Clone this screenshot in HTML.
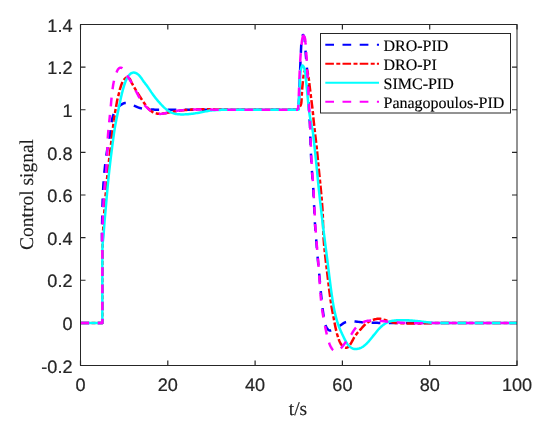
<!DOCTYPE html>
<html><head><meta charset="utf-8"><style>
html,body{margin:0;padding:0;background:#fff;}
svg{display:block;}
text{text-rendering:geometricPrecision;}
.tk text{font-family:"Liberation Sans",Arial,sans-serif;font-size:18.1px;fill:#262626;stroke:#262626;stroke-width:0.2px;}
.lab{font-family:"Liberation Serif","Times New Roman",serif;font-size:19.5px;fill:#1e1e1e;stroke:#1e1e1e;stroke-width:0.15px;}
.lg text{font-family:"Liberation Serif","Times New Roman",serif;font-size:16px;fill:#000;stroke:#000;stroke-width:0.15px;}
</style></head><body>
<svg width="550" height="426" viewBox="0 0 550 426">
<rect x="0" y="0" width="550" height="426" fill="#fff"/>
<path d="M80.50,365.5 V360.50 M80.50,24.5 V29.50 M167.80,365.5 V360.50 M167.80,24.5 V29.50 M255.10,365.5 V360.50 M255.10,24.5 V29.50 M342.40,365.5 V360.50 M342.40,24.5 V29.50 M429.70,365.5 V360.50 M429.70,24.5 V29.50 M517.00,365.5 V360.50 M517.00,24.5 V29.50 M80.5,365.52 H85.50 M517,365.52 H512.00 M80.5,322.90 H85.50 M517,322.90 H512.00 M80.5,280.27 H85.50 M517,280.27 H512.00 M80.5,237.65 H85.50 M517,237.65 H512.00 M80.5,195.02 H85.50 M517,195.02 H512.00 M80.5,152.40 H85.50 M517,152.40 H512.00 M80.5,109.77 H85.50 M517,109.77 H512.00 M80.5,67.15 H85.50 M517,67.15 H512.00 M80.5,24.52 H85.50 M517,24.52 H512.00" fill="none" stroke="#262626" stroke-width="1.2"/>
<g fill="none" stroke-width="2.5" stroke-linejoin="round">
<path d="M80.50,322.90 L102.33,322.90 L102.33,255.00 L102.27,252.62 L102.20,250.23 L102.13,247.83 L102.06,245.43 L102.00,243.05 L101.95,240.68 L101.92,238.32 L101.90,236.00 L101.90,233.83 L101.92,231.68 L101.96,229.54 L102.00,227.43 L102.05,225.31 L102.10,223.21 L102.15,221.11 L102.20,219.00 L102.24,216.92 L102.29,214.85 L102.33,212.78 L102.37,210.72 L102.42,208.65 L102.48,206.60 L102.53,204.55 L102.60,202.50 L102.67,200.50 L102.74,198.51 L102.82,196.53 L102.90,194.55 L102.98,192.57 L103.08,190.59 L103.18,188.60 L103.30,186.60 L103.43,184.54 L103.56,182.48 L103.71,180.42 L103.86,178.35 L104.03,176.27 L104.20,174.19 L104.39,172.10 L104.60,170.00 L104.83,167.83 L105.07,165.65 L105.32,163.47 L105.59,161.27 L105.87,159.08 L106.17,156.88 L106.48,154.69 L106.80,152.50 L107.15,150.29 L107.54,148.06 L107.95,145.81 L108.37,143.57 L108.79,141.36 L109.19,139.18 L109.56,137.06 L109.90,135.00 L110.15,133.29 L110.37,131.61 L110.57,129.94 L110.76,128.31 L110.95,126.73 L111.15,125.19 L111.36,123.71 L111.60,122.30" stroke="#0000ff" stroke-dasharray="8.7 8.5" stroke-dashoffset="0.00"/>
<path d="M111.60,122.30 L111.80,121.25 L111.99,120.22 L112.19,119.23 L112.40,118.27 L112.62,117.35 L112.86,116.46 L113.12,115.61 L113.40,114.80 L113.64,114.20 L113.89,113.63 L114.15,113.09 L114.42,112.58 L114.70,112.07 L114.99,111.58 L115.29,111.09 L115.60,110.60 L115.91,110.12 L116.23,109.63 L116.56,109.16 L116.90,108.69 L117.24,108.23 L117.59,107.79 L117.95,107.38 L118.30,107.00 L118.60,106.70 L118.89,106.43 L119.19,106.17 L119.49,105.92 L119.80,105.69 L120.12,105.46 L120.45,105.23 L120.80,105.00 L121.22,104.73 L121.65,104.44 L122.10,104.16 L122.57,103.89 L123.05,103.63 L123.53,103.41 L124.01,103.23 L124.50,103.10 L124.98,103.03 L125.47,102.99 L125.96,102.99 L126.45,103.03 L126.96,103.09 L127.46,103.18 L127.98,103.28 L128.50,103.40 L129.13,103.58 L129.76,103.81 L130.41,104.07 L131.06,104.37 L131.72,104.68 L132.40,105.00 L133.09,105.31 L133.80,105.60 L134.65,105.94 L135.52,106.30 L136.40,106.67 L137.31,107.04 L138.23,107.40 L139.17,107.74 L140.13,108.04 L141.10,108.30 L142.18,108.53 L143.28,108.73 L144.41,108.88 L145.55,109.02 L146.71,109.13 L147.87,109.22 L149.04,109.31 L150.20,109.40 L151.39,109.48 L152.57,109.55 L153.75,109.60 L154.95,109.64 L156.16,109.68 L157.39,109.70 L158.67,109.73 L160.00,109.75 L161.72,109.77 L163.53,109.78 L165.39,109.79 L167.30,109.78 L169.24,109.77 L171.18,109.76 L173.10,109.75 L175.00,109.75 L298.15,109.75" stroke="#0000ff" stroke-dasharray="8.7 8.5" stroke-dashoffset="0.24"/>
<path d="M298.15,109.75 L298.23,108.92 L298.30,108.11 L298.38,107.32 L298.46,106.51 L298.53,105.69 L298.61,104.84 L298.68,103.95 L298.75,103.00 L298.84,101.58 L298.93,100.06 L299.02,98.46 L299.10,96.80 L299.18,95.10 L299.25,93.38 L299.33,91.68 L299.40,90.00 L299.47,88.27 L299.54,86.52 L299.60,84.77 L299.66,83.00 L299.72,81.23 L299.78,79.48 L299.84,77.73 L299.90,76.00 L299.96,74.34 L300.02,72.66 L300.09,70.98 L300.15,69.32 L300.21,67.68 L300.28,66.07 L300.34,64.51 L300.40,63.00 L300.45,61.78 L300.50,60.59 L300.55,59.42 L300.60,58.28 L300.65,57.17 L300.70,56.08 L300.75,55.03 L300.80,54.00 L300.84,53.20 L300.87,52.44 L300.91,51.71 L300.94,50.99 L300.97,50.27 L301.01,49.54 L301.05,48.79 L301.10,48.00 L301.15,47.00 L301.20,45.94 L301.25,44.84 L301.30,43.73 L301.37,42.63 L301.46,41.56 L301.56,40.54 L301.70,39.60 L301.82,38.88 L301.96,38.11 L302.11,37.33 L302.27,36.59 L302.44,35.94 L302.62,35.40 L302.81,35.04 L303.00,34.90 L303.15,34.95 L303.32,35.11 L303.50,35.37 L303.67,35.70 L303.85,36.08 L304.02,36.48 L304.17,36.90 L304.30,37.30 L304.46,37.94 L304.59,38.65 L304.68,39.42 L304.76,40.24 L304.82,41.09 L304.87,41.96 L304.93,42.83 L305.00,43.70 L305.08,44.70 L305.16,45.74 L305.24,46.80 L305.31,47.88 L305.38,48.96 L305.45,50.05 L305.52,51.13 L305.60,52.20 L305.68,53.25 L305.77,54.30 L305.86,55.35 L305.94,56.40 L306.03,57.45 L306.12,58.50 L306.21,59.55 L306.30,60.60 L306.39,61.64 L306.48,62.65 L306.57,63.64 L306.65,64.64 L306.74,65.67 L306.83,66.75 L306.92,67.88 L307.00,69.10 L307.12,71.07 L307.24,73.22 L307.35,75.52 L307.47,77.91 L307.58,80.34 L307.69,82.77 L307.80,85.14 L307.90,87.40 L307.99,89.42 L308.08,91.42 L308.17,93.41 L308.26,95.38 L308.34,97.32 L308.43,99.23 L308.51,101.09 L308.60,102.90 L308.67,104.40 L308.75,105.87 L308.82,107.30 L308.89,108.71 L308.96,110.10 L309.04,111.47 L309.12,112.84 L309.20,114.20 L309.28,115.45 L309.37,116.65 L309.46,117.83 L309.56,119.00 L309.65,120.19 L309.74,121.43 L309.82,122.72 L309.90,124.10 L309.99,126.12 L310.08,128.30 L310.15,130.59 L310.22,132.95 L310.28,135.35 L310.35,137.75 L310.42,140.11 L310.50,142.40 L310.58,144.56 L310.66,146.73 L310.74,148.89 L310.83,151.04 L310.91,153.17 L311.01,155.26 L311.10,157.31 L311.20,159.30 L311.29,160.99 L311.39,162.66 L311.49,164.31 L311.59,165.92 L311.70,167.50 L311.80,169.05 L311.90,170.55 L312.00,172.00 L312.08,173.14 L312.15,174.24 L312.22,175.31 L312.30,176.36 L312.37,177.39 L312.44,178.42 L312.52,179.45 L312.60,180.50 L312.69,181.56 L312.78,182.63 L312.87,183.69 L312.97,184.75 L313.06,185.82 L313.15,186.88 L313.23,187.94 L313.30,189.00 L313.35,190.05 L313.40,191.10 L313.43,192.15 L313.46,193.20 L313.49,194.25 L313.52,195.30 L313.56,196.35 L313.60,197.40 L313.65,198.45 L313.71,199.50 L313.78,200.55 L313.84,201.60 L313.91,202.65 L313.98,203.70 L314.04,204.75 L314.10,205.80 L314.15,206.86 L314.21,207.91 L314.25,208.96 L314.30,210.01 L314.35,211.06 L314.40,212.13 L314.45,213.21 L314.50,214.30 L314.56,215.51 L314.62,216.75 L314.67,218.01 L314.73,219.28 L314.80,220.54 L314.86,221.79 L314.93,223.01 L315.00,224.20 L315.07,225.22 L315.14,226.20 L315.21,227.17 L315.29,228.12 L315.37,229.07 L315.44,230.03 L315.52,231.00 L315.60,232.00 L315.68,233.11 L315.77,234.23 L315.86,235.37 L315.95,236.53 L316.03,237.68 L316.12,238.83 L316.21,239.97 L316.30,241.10 L316.39,242.18 L316.47,243.25 L316.56,244.31 L316.65,245.37 L316.74,246.43 L316.82,247.49 L316.91,248.54 L317.00,249.60 L317.09,250.65 L317.17,251.70 L317.26,252.75 L317.34,253.80 L317.43,254.85 L317.52,255.90 L317.61,256.95 L317.70,258.00 L317.80,259.06 L317.89,260.11 L317.99,261.16 L318.09,262.22 L318.19,263.28 L318.29,264.34 L318.40,265.41 L318.50,266.50 L318.61,267.64 L318.72,268.78 L318.82,269.91 L318.93,271.05 L319.04,272.22 L319.16,273.43 L319.28,274.68 L319.40,276.00" stroke="#0000ff" stroke-dasharray="8.7 8.5" stroke-dashoffset="11.85"/>
<path d="M319.40,276.00 L319.57,277.84 L319.74,279.80 L319.92,281.85 L320.11,283.96 L320.30,286.10 L320.50,288.26 L320.70,290.40 L320.90,292.50 L321.10,294.61 L321.31,296.74 L321.51,298.87 L321.72,301.00 L321.94,303.13 L322.18,305.24 L322.43,307.34 L322.70,309.40 L322.97,311.39 L323.24,313.44 L323.51,315.51 L323.80,317.54 L324.12,319.51 L324.47,321.35 L324.86,323.03 L325.30,324.50 L325.59,325.30 L325.89,326.07 L326.21,326.78 L326.54,327.45 L326.89,328.06 L327.24,328.61 L327.61,329.09 L328.00,329.50 L328.26,329.74 L328.53,329.94 L328.81,330.12 L329.09,330.27 L329.37,330.40 L329.67,330.49 L329.98,330.56 L330.30,330.60 L330.71,330.60 L331.14,330.55 L331.58,330.45 L332.04,330.32 L332.52,330.14 L333.00,329.95 L333.50,329.73 L334.00,329.50 L334.75,329.12 L335.55,328.65 L336.38,328.12 L337.22,327.55 L338.07,326.96 L338.91,326.37 L339.73,325.81 L340.50,325.30 L341.12,324.89 L341.72,324.46 L342.30,324.04 L342.87,323.64 L343.44,323.25 L344.01,322.89 L344.60,322.57 L345.20,322.30 L345.78,322.09 L346.37,321.92 L346.96,321.78 L347.56,321.67 L348.17,321.58 L348.77,321.51 L349.39,321.45 L350.00,321.40 L350.63,321.36 L351.26,321.34 L351.90,321.34 L352.53,321.35 L353.18,321.38 L353.84,321.41 L354.51,321.45 L355.20,321.50 L356.03,321.57 L356.87,321.66 L357.72,321.76 L358.59,321.88 L359.49,321.99 L360.40,322.11 L361.34,322.21 L362.30,322.30 L363.51,322.39 L364.76,322.47 L366.05,322.54 L367.37,322.61 L368.71,322.66 L370.07,322.71 L371.44,322.76 L372.80,322.80 L374.27,322.83 L375.76,322.86 L377.25,322.87 L378.76,322.88 L380.29,322.89 L381.84,322.89 L383.41,322.90 L385.00,322.90 L386.80,322.91 L388.64,322.91 L390.51,322.91 L392.40,322.91 L394.31,322.91 L396.21,322.90 L398.11,322.90 L400.00,322.90 L517.00,322.90" stroke="#0000ff" stroke-dasharray="8.7 8.5" stroke-dashoffset="2.11"/>
<path d="M80.50,322.90 L102.33,322.90 L102.33,255.00 L102.37,253.13 L102.41,251.28 L102.45,249.43 L102.49,247.58 L102.53,245.72 L102.58,243.85 L102.63,241.94 L102.70,240.00 L102.79,237.83 L102.88,235.61 L102.98,233.37 L103.09,231.10 L103.21,228.82 L103.33,226.54 L103.46,224.26 L103.60,222.00 L103.74,219.75 L103.89,217.49 L104.05,215.23 L104.22,212.97 L104.38,210.71 L104.56,208.46 L104.73,206.22 L104.90,204.00 L105.07,201.85 L105.24,199.72 L105.41,197.59 L105.58,195.47 L105.75,193.35 L105.93,191.24 L106.11,189.12 L106.30,187.00 L106.49,184.85 L106.68,182.68 L106.88,180.49 L107.08,178.31 L107.29,176.16 L107.49,174.04 L107.70,171.98 L107.90,170.00 L108.07,168.39 L108.25,166.83 L108.42,165.30 L108.60,163.80 L108.77,162.33 L108.95,160.87 L109.12,159.43 L109.30,158.00 L109.46,156.71 L109.63,155.45 L109.79,154.20 L109.96,152.97 L110.12,151.75 L110.29,150.51 L110.44,149.27 L110.60,148.00 L110.76,146.64 L110.91,145.26 L111.06,143.87 L111.21,142.46 L111.36,141.07 L111.50,139.68 L111.65,138.33 L111.80,137.00 L111.94,135.83 L112.07,134.67 L112.21,133.52 L112.35,132.39 L112.49,131.27 L112.63,130.17 L112.76,129.08 L112.90,128.00 L113.02,127.03 L113.15,126.07 L113.27,125.13 L113.40,124.19 L113.52,123.26 L113.65,122.34 L113.77,121.42 L113.90,120.50" stroke="#ff0000" stroke-dasharray="8.6 2.4 4 2.2" stroke-dashoffset="0.00"/>
<path d="M113.90,120.50 L114.02,119.61 L114.14,118.73 L114.26,117.86 L114.39,116.98 L114.51,116.11 L114.64,115.24 L114.77,114.37 L114.90,113.50 L115.04,112.63 L115.18,111.75 L115.33,110.88 L115.48,110.01 L115.63,109.14 L115.78,108.27 L115.94,107.39 L116.10,106.50 L116.27,105.57 L116.43,104.61 L116.60,103.65 L116.78,102.69 L116.95,101.74 L117.13,100.80 L117.31,99.88 L117.50,99.00 L117.67,98.27 L117.84,97.56 L118.01,96.87 L118.19,96.19 L118.37,95.52 L118.55,94.85 L118.72,94.18 L118.90,93.50 L119.07,92.81 L119.24,92.13 L119.40,91.44 L119.56,90.75 L119.73,90.06 L119.91,89.38 L120.10,88.69 L120.30,88.00 L120.52,87.28 L120.76,86.54 L121.00,85.79 L121.25,85.05 L121.52,84.32 L121.80,83.61 L122.09,82.94 L122.40,82.30 L122.68,81.78 L122.96,81.27 L123.26,80.78 L123.57,80.31 L123.89,79.86 L124.22,79.44 L124.55,79.05 L124.90,78.70 L125.19,78.43 L125.50,78.16 L125.82,77.91 L126.14,77.68 L126.46,77.48 L126.78,77.33 L127.10,77.23 L127.40,77.20 L127.67,77.23 L127.95,77.31 L128.22,77.43 L128.49,77.59 L128.75,77.79 L129.01,78.01 L129.26,78.25 L129.50,78.50 L129.82,78.91 L130.11,79.38 L130.38,79.91 L130.64,80.48 L130.91,81.09 L131.18,81.72 L131.47,82.36 L131.80,83.00 L132.30,83.91 L132.85,84.90 L133.44,85.94 L134.06,87.01 L134.68,88.07 L135.28,89.11 L135.86,90.10 L136.40,91.00 L136.78,91.63 L137.14,92.22 L137.49,92.78 L137.83,93.33 L138.17,93.87 L138.51,94.40 L138.85,94.94 L139.20,95.50 L139.57,96.09 L139.94,96.68 L140.32,97.27 L140.69,97.87 L141.07,98.46 L141.45,99.05 L141.83,99.63 L142.20,100.20 L142.55,100.73 L142.90,101.25 L143.24,101.77 L143.59,102.28 L143.94,102.79 L144.29,103.30 L144.64,103.80 L145.00,104.30 L145.36,104.80 L145.73,105.31 L146.10,105.81 L146.47,106.32 L146.84,106.81 L147.22,107.29 L147.61,107.76 L148.00,108.20 L148.36,108.59 L148.72,108.97 L149.08,109.34 L149.45,109.70 L149.82,110.05 L150.21,110.38 L150.60,110.70 L151.00,111.00 L151.41,111.29 L151.83,111.56 L152.25,111.82 L152.69,112.07 L153.13,112.30 L153.58,112.52 L154.04,112.72 L154.50,112.90 L154.99,113.07 L155.48,113.23 L155.98,113.37 L156.49,113.49 L157.01,113.59 L157.53,113.68 L158.06,113.75 L158.60,113.80 L159.18,113.83 L159.76,113.84 L160.35,113.82 L160.94,113.78 L161.55,113.73 L162.18,113.66 L162.83,113.58 L163.50,113.50 L164.43,113.36 L165.40,113.19 L166.41,112.99 L167.44,112.77 L168.51,112.55 L169.59,112.32 L170.69,112.10 L171.80,111.90 L173.10,111.68 L174.44,111.46 L175.83,111.24 L177.23,111.03 L178.63,110.83 L180.02,110.63 L181.38,110.46 L182.70,110.30 L183.83,110.18 L184.92,110.07 L185.99,109.97 L187.05,109.89 L188.11,109.81 L189.20,109.74 L190.32,109.67 L191.50,109.60 L193.01,109.52 L194.60,109.45 L196.25,109.39 L197.93,109.33 L199.61,109.28 L201.29,109.24 L202.92,109.22 L204.50,109.20 L205.85,109.20 L207.16,109.21 L208.44,109.24 L209.70,109.27 L210.97,109.30 L212.27,109.34 L213.61,109.37 L215.00,109.40 L216.75,109.43 L218.56,109.45 L220.43,109.48 L222.33,109.51 L224.26,109.53 L226.19,109.55 L228.11,109.58 L230.00,109.60 L231.87,109.62 L233.75,109.64 L235.62,109.66 L237.50,109.68 L239.37,109.70 L241.25,109.71 L243.12,109.73 L245.00,109.75 L298.45,109.75" stroke="#ff0000" stroke-dasharray="8.6 2.4 4 2.2" stroke-dashoffset="3.39"/>
<path d="M298.45,109.75 L298.75,108.00 L299.03,107.60 L299.32,107.23 L299.61,106.87 L299.90,106.50 L300.18,106.11 L300.45,105.69 L300.69,105.22 L300.90,104.70 L301.17,103.71 L301.35,102.57 L301.47,101.31 L301.55,99.96 L301.61,98.56 L301.65,97.15 L301.71,95.75 L301.80,94.40 L301.91,93.01 L302.02,91.59 L302.12,90.16 L302.23,88.72 L302.33,87.30 L302.45,85.89 L302.57,84.52 L302.70,83.20 L302.82,82.09 L302.93,80.98 L303.05,79.89 L303.17,78.82 L303.30,77.78 L303.45,76.77 L303.61,75.81 L303.80,74.90 L303.95,74.20 L304.10,73.47 L304.25,72.74 L304.42,72.04 L304.60,71.41 L304.80,70.87 L305.04,70.46 L305.30,70.20 L305.47,70.13 L305.65,70.09 L305.85,70.08 L306.05,70.11 L306.25,70.17 L306.45,70.25 L306.63,70.36 L306.80,70.50 L307.08,70.87 L307.32,71.39 L307.52,72.02 L307.69,72.76 L307.85,73.56 L307.99,74.40 L308.14,75.26 L308.30,76.10 L308.52,77.32 L308.73,78.64 L308.92,80.04 L309.10,81.50 L309.28,82.99 L309.45,84.48 L309.62,85.96 L309.80,87.40 L309.98,88.81 L310.16,90.23 L310.33,91.64 L310.51,93.05 L310.68,94.47 L310.85,95.88 L311.03,97.29 L311.20,98.70 L311.38,100.10 L311.56,101.50 L311.74,102.91 L311.92,104.31 L312.10,105.70 L312.27,107.10 L312.44,108.50 L312.60,109.90 L312.75,111.29 L312.89,112.69 L313.03,114.09 L313.16,115.49 L313.30,116.88 L313.43,118.26 L313.56,119.64 L313.70,121.00 L313.83,122.27 L313.96,123.49 L314.09,124.69 L314.22,125.89 L314.36,127.12 L314.50,128.38 L314.64,129.70 L314.80,131.10 L315.03,133.14 L315.29,135.33 L315.56,137.63 L315.84,140.00 L316.12,142.41 L316.39,144.80 L316.66,147.14 L316.90,149.40 L317.11,151.39 L317.30,153.33 L317.48,155.24 L317.66,157.13 L317.84,159.03 L318.01,160.96 L318.20,162.95 L318.40,165.00 L318.65,167.51 L318.91,170.13 L319.18,172.82 L319.46,175.55 L319.73,178.29 L320.00,180.98 L320.26,183.60 L320.50,186.10 L320.70,188.17 L320.89,190.20 L321.07,192.19 L321.25,194.15 L321.43,196.07 L321.59,197.95 L321.75,199.79 L321.90,201.60 L322.02,203.08 L322.13,204.47 L322.23,205.80 L322.33,207.13 L322.43,208.47 L322.52,209.87 L322.61,211.37 L322.70,213.00 L322.82,215.70 L322.92,218.68 L323.00,221.86 L323.09,225.17 L323.18,228.55 L323.29,231.91 L323.43,235.18 L323.60,238.30 L323.80,241.07 L324.02,243.86 L324.27,246.63 L324.54,249.37 L324.81,252.03 L325.08,254.61 L325.35,257.08 L325.60,259.40 L325.78,261.01 L325.96,262.54 L326.13,264.00 L326.31,265.40 L326.48,266.79 L326.65,268.17 L326.83,269.56 L327.00,271.00 L327.18,272.49 L327.35,273.99 L327.53,275.50 L327.70,277.01 L327.87,278.51 L328.05,280.02 L328.22,281.51 L328.40,283.00 L328.57,284.43 L328.74,285.85 L328.91,287.26 L329.08,288.67 L329.25,290.08 L329.42,291.50 L329.61,292.94 L329.80,294.40 L330.02,296.01 L330.24,297.65 L330.47,299.33 L330.71,301.01 L330.95,302.68 L331.20,304.33 L331.45,305.94 L331.70,307.50 L331.93,308.82 L332.16,310.10 L332.40,311.35 L332.64,312.59 L332.88,313.81 L333.12,315.03 L333.36,316.26 L333.60,317.50 L333.83,318.76 L334.07,320.02 L334.29,321.29 L334.52,322.56 L334.76,323.82 L335.00,325.07 L335.24,326.30 L335.50,327.50 L335.74,328.58 L335.97,329.64 L336.21,330.68 L336.45,331.71 L336.71,332.73 L336.98,333.75 L337.28,334.77 L337.60,335.80 L337.96,336.90 L338.34,338.04 L338.73,339.20 L339.15,340.35 L339.60,341.47 L340.07,342.51 L340.57,343.47 L341.10,344.30 L341.52,344.85 L341.96,345.37 L342.42,345.85 L342.89,346.30 L343.38,346.69 L343.86,347.03 L344.33,347.30 L344.80,347.50 L345.14,347.60 L345.49,347.68 L345.83,347.71 L346.17,347.72 L346.51,347.69 L346.85,347.63 L347.18,347.53 L347.50,347.40 L347.90,347.16 L348.28,346.85 L348.66,346.48 L349.02,346.05 L349.38,345.57 L349.75,345.07 L350.12,344.54 L350.50,344.00 L351.06,343.15 L351.61,342.20 L352.17,341.16 L352.74,340.07 L353.32,338.97 L353.92,337.86 L354.55,336.80 L355.20,335.80 L355.88,334.87 L356.58,333.96 L357.31,333.06 L358.05,332.18 L358.81,331.32 L359.58,330.47 L360.34,329.63 L361.10,328.80 L361.82,328.01 L362.54,327.21 L363.26,326.41 L363.99,325.63 L364.72,324.88 L365.47,324.16 L366.23,323.50 L367.00,322.90 L367.70,322.42 L368.40,321.99 L369.12,321.59 L369.85,321.22 L370.58,320.88 L371.31,320.56 L372.06,320.27 L372.80,320.00 L373.53,319.75 L374.28,319.52 L375.04,319.31 L375.81,319.12 L376.56,318.96 L377.30,318.83 L378.02,318.74 L378.70,318.70 L379.22,318.70 L379.72,318.73 L380.20,318.79 L380.67,318.86 L381.14,318.96 L381.61,319.07 L382.10,319.18 L382.60,319.30 L383.20,319.45 L383.82,319.63 L384.44,319.83 L385.07,320.04 L385.72,320.26 L386.37,320.48 L387.03,320.69 L387.70,320.90 L388.45,321.13 L389.19,321.37 L389.94,321.62 L390.71,321.87 L391.50,322.10 L392.32,322.33 L393.18,322.53 L394.10,322.70 L395.47,322.89 L396.96,323.04 L398.53,323.15 L400.17,323.22 L401.84,323.28 L403.52,323.32 L405.18,323.36 L406.80,323.40 L408.39,323.44 L409.97,323.46 L411.56,323.46 L413.15,323.46 L414.73,323.45 L416.32,323.44 L417.91,323.42 L419.50,323.40 L421.10,323.38 L422.70,323.34 L424.30,323.31 L425.90,323.26 L427.50,323.22 L429.10,323.18 L430.70,323.13 L432.30,323.10 L433.88,323.07 L435.45,323.04 L437.02,323.01 L438.59,322.98 L440.16,322.96 L441.75,322.93 L443.36,322.92 L445.00,322.90 L446.82,322.89 L448.66,322.88 L450.53,322.88 L452.42,322.89 L454.32,322.89 L456.22,322.89 L458.12,322.90 L460.00,322.90 L517.00,322.90" stroke="#ff0000" stroke-dasharray="8.6 2.4 4 2.2" stroke-dashoffset="13.51"/>
<path d="M80.50,322.90 L102.33,322.90 L102.33,252.00 L102.36,251.00 L102.38,249.99 L102.40,248.98 L102.43,247.97 L102.45,246.96 L102.49,245.96 L102.54,244.97 L102.60,244.00 L102.67,243.12 L102.76,242.28 L102.86,241.47 L102.97,240.65 L103.08,239.81 L103.19,238.94 L103.30,238.01 L103.40,237.00 L103.55,235.32 L103.69,233.48 L103.84,231.52 L103.98,229.47 L104.13,227.36 L104.28,225.22 L104.44,223.09 L104.60,221.00 L104.78,218.80 L104.98,216.57 L105.18,214.33 L105.38,212.07 L105.59,209.80 L105.79,207.52 L106.00,205.26 L106.20,203.00 L106.40,200.75 L106.59,198.51 L106.79,196.27 L106.98,194.03 L107.18,191.78 L107.38,189.53 L107.58,187.27 L107.80,185.00 L108.03,182.64 L108.27,180.26 L108.51,177.86 L108.76,175.46 L109.02,173.07 L109.28,170.69 L109.54,168.33 L109.80,166.00 L110.05,163.83 L110.31,161.68 L110.56,159.55 L110.83,157.44 L111.09,155.33 L111.36,153.23 L111.63,151.12 L111.90,149.00 L112.18,146.83 L112.47,144.61 L112.76,142.36 L113.06,140.13 L113.36,137.94 L113.65,135.83 L113.93,133.84 L114.20,132.00 L114.38,130.81 L114.56,129.69 L114.73,128.63 L114.89,127.62 L115.06,126.62 L115.23,125.63 L115.41,124.63 L115.60,123.60 L115.80,122.54 L116.00,121.48 L116.21,120.43 L116.42,119.37 L116.64,118.31 L116.86,117.25 L117.08,116.18 L117.30,115.10 L117.53,113.96 L117.77,112.82 L118.00,111.66 L118.24,110.50 L118.48,109.33 L118.72,108.18 L118.96,107.03 L119.20,105.90 L119.43,104.83 L119.65,103.75 L119.87,102.69 L120.10,101.63 L120.32,100.58 L120.55,99.54 L120.77,98.51 L121.00,97.50 L121.21,96.59 L121.42,95.69 L121.62,94.80 L121.83,93.93 L122.04,93.06 L122.26,92.20 L122.48,91.35 L122.70,90.50 L122.91,89.71 L123.13,88.93 L123.34,88.15 L123.56,87.38 L123.79,86.62 L124.02,85.87 L124.26,85.13 L124.50,84.40 L124.73,83.73 L124.96,83.06 L125.20,82.40 L125.44,81.75 L125.69,81.12 L125.95,80.49 L126.22,79.89 L126.50,79.30 L126.76,78.79 L127.03,78.29 L127.31,77.80 L127.60,77.33 L127.89,76.87 L128.19,76.42 L128.49,76.00 L128.80,75.60 L129.06,75.27 L129.32,74.96 L129.58,74.65 L129.85,74.36 L130.12,74.09 L130.41,73.83 L130.70,73.60 L131.00,73.40 L131.29,73.24 L131.59,73.09 L131.90,72.96 L132.22,72.84 L132.54,72.75 L132.86,72.68 L133.18,72.63 L133.50,72.60 L133.81,72.59 L134.13,72.61 L134.45,72.65 L134.77,72.71 L135.08,72.79 L135.39,72.88 L135.70,72.98 L136.00,73.10 L136.30,73.23 L136.60,73.39 L136.89,73.55 L137.18,73.74 L137.46,73.93 L137.74,74.14 L138.02,74.37 L138.30,74.60 L138.62,74.89 L138.94,75.21 L139.26,75.54 L139.57,75.90 L139.88,76.26 L140.19,76.64 L140.50,77.02 L140.80,77.40 L141.12,77.82 L141.44,78.26 L141.75,78.71 L142.05,79.17 L142.36,79.63 L142.67,80.09 L142.98,80.55 L143.30,81.00 L143.63,81.45 L143.96,81.90 L144.30,82.34 L144.64,82.79 L144.98,83.24 L145.32,83.69 L145.66,84.14 L146.00,84.60 L146.36,85.09 L146.72,85.58 L147.09,86.08 L147.46,86.58 L147.82,87.09 L148.19,87.59 L148.55,88.10 L148.90,88.60 L149.24,89.10 L149.58,89.60 L149.92,90.09 L150.25,90.59 L150.58,91.09 L150.91,91.59 L151.25,92.10 L151.60,92.60 L151.96,93.12 L152.33,93.66 L152.71,94.19 L153.08,94.72 L153.46,95.25 L153.84,95.78 L154.22,96.29 L154.60,96.80 L154.96,97.27 L155.32,97.73 L155.68,98.18 L156.04,98.63 L156.40,99.08 L156.76,99.52 L157.13,99.96 L157.50,100.40 L157.87,100.83 L158.23,101.26 L158.60,101.68 L158.97,102.10 L159.34,102.52 L159.72,102.95 L160.10,103.37 L160.50,103.80 L160.93,104.27 L161.37,104.75 L161.81,105.23 L162.26,105.71 L162.72,106.19 L163.19,106.66 L163.68,107.14 L164.20,107.60 L164.81,108.13 L165.45,108.66 L166.11,109.20 L166.79,109.73 L167.48,110.24 L168.19,110.73 L168.89,111.18 L169.60,111.60 L170.26,111.96 L170.92,112.29 L171.58,112.60 L172.25,112.89 L172.94,113.16 L173.64,113.40 L174.36,113.61 L175.10,113.80 L175.98,113.98 L176.89,114.12 L177.82,114.22 L178.77,114.30 L179.75,114.35 L180.73,114.38 L181.71,114.39 L182.70,114.40 L183.77,114.39 L184.84,114.36 L185.93,114.30 L187.03,114.23 L188.14,114.14 L189.25,114.04 L190.37,113.92 L191.50,113.80 L192.71,113.66 L193.93,113.49 L195.17,113.32 L196.41,113.12 L197.65,112.92 L198.88,112.72 L200.10,112.51 L201.30,112.30 L202.41,112.09 L203.50,111.87 L204.57,111.64 L205.64,111.40 L206.71,111.18 L207.79,110.96 L208.88,110.77 L210.00,110.60 L211.21,110.45 L212.42,110.33 L213.65,110.23 L214.89,110.15 L216.15,110.07 L217.42,110.01 L218.70,109.95 L220.00,109.90 L221.44,109.85 L222.91,109.81 L224.40,109.79 L225.90,109.78 L227.42,109.77 L228.94,109.76 L230.47,109.76 L232.00,109.75 L233.60,109.74 L235.21,109.74 L236.84,109.74 L238.47,109.74 L240.10,109.74 L241.74,109.75 L243.37,109.75 L245.00,109.75 L298.45,109.75 L298.55,104.00 L298.63,103.18 L298.72,102.38 L298.80,101.60 L298.88,100.81 L298.97,99.99 L299.05,99.15 L299.13,98.26 L299.20,97.30 L299.30,95.77 L299.40,94.10 L299.48,92.31 L299.57,90.45 L299.65,88.57 L299.73,86.71 L299.82,84.91 L299.90,83.20 L299.97,81.76 L300.03,80.32 L300.09,78.90 L300.15,77.50 L300.21,76.14 L300.29,74.85 L300.38,73.63 L300.50,72.50 L300.59,71.78 L300.68,71.09 L300.77,70.42 L300.87,69.79 L300.98,69.19 L301.11,68.63 L301.25,68.09 L301.40,67.60 L301.52,67.26 L301.64,66.91 L301.77,66.57 L301.91,66.24 L302.05,65.96 L302.19,65.73 L302.34,65.57 L302.50,65.50 L302.64,65.52 L302.79,65.59 L302.95,65.72 L303.10,65.89 L303.26,66.10 L303.41,66.32 L303.56,66.56 L303.70,66.80 L303.92,67.25 L304.12,67.77 L304.31,68.35 L304.48,68.99 L304.65,69.67 L304.80,70.39 L304.95,71.14 L305.10,71.90 L305.30,73.09 L305.47,74.38 L305.62,75.75 L305.76,77.19 L305.89,78.67 L306.02,80.18 L306.15,81.70 L306.30,83.20 L306.47,84.89 L306.65,86.62 L306.82,88.38 L307.00,90.16 L307.17,91.95 L307.35,93.74 L307.52,95.53 L307.70,97.30 L307.87,99.07 L308.03,100.85 L308.19,102.64 L308.36,104.42 L308.52,106.19 L308.70,107.94 L308.89,109.64 L309.10,111.30 L309.30,112.71 L309.51,114.10 L309.73,115.46 L309.96,116.80 L310.19,118.12 L310.43,119.42 L310.66,120.72 L310.90,122.00 L311.12,123.15 L311.35,124.25 L311.58,125.33 L311.81,126.40 L312.04,127.48 L312.27,128.62 L312.49,129.81 L312.70,131.10 L312.99,133.08 L313.26,135.22 L313.53,137.48 L313.79,139.82 L314.05,142.23 L314.30,144.65 L314.55,147.05 L314.80,149.40 L315.06,151.77 L315.32,154.16 L315.57,156.57 L315.82,158.97 L316.07,161.38 L316.32,163.77 L316.56,166.15 L316.80,168.50 L317.02,170.73 L317.23,172.94 L317.44,175.14 L317.65,177.32 L317.85,179.51 L318.06,181.69 L318.28,183.89 L318.50,186.10 L318.74,188.37 L318.98,190.65 L319.23,192.94 L319.48,195.23 L319.73,197.52 L319.99,199.82 L320.24,202.11 L320.50,204.40 L320.76,206.69 L321.01,208.97 L321.27,211.26 L321.53,213.55 L321.79,215.83 L322.06,218.12 L322.33,220.41 L322.60,222.70 L322.88,224.99 L323.16,227.27 L323.44,229.54 L323.72,231.82 L324.01,234.10 L324.31,236.41 L324.60,238.74 L324.90,241.10 L325.23,243.69 L325.57,246.35 L325.91,249.05 L326.26,251.76 L326.60,254.46 L326.95,257.13 L327.28,259.75 L327.60,262.30 L327.88,264.51 L328.15,266.68 L328.41,268.82 L328.67,270.93 L328.92,273.01 L329.18,275.08 L329.44,277.14 L329.70,279.20 L329.95,281.14 L330.19,283.07 L330.43,284.99 L330.68,286.89 L330.92,288.78 L331.17,290.66 L331.43,292.53 L331.70,294.40 L331.97,296.21 L332.24,298.02 L332.51,299.83 L332.79,301.63 L333.08,303.40 L333.38,305.15 L333.68,306.85 L334.00,308.50 L334.28,309.88 L334.56,311.23 L334.85,312.56 L335.15,313.86 L335.45,315.13 L335.76,316.38 L336.07,317.60 L336.40,318.80 L336.69,319.82 L336.98,320.82 L337.28,321.79 L337.59,322.75 L337.90,323.69 L338.22,324.63 L338.55,325.56 L338.90,326.50 L339.26,327.42 L339.63,328.34 L340.01,329.26 L340.40,330.17 L340.80,331.07 L341.20,331.96 L341.60,332.83 L342.00,333.70 L342.37,334.49 L342.73,335.28 L343.10,336.06 L343.47,336.83 L343.84,337.58 L344.22,338.33 L344.61,339.07 L345.00,339.80 L345.38,340.49 L345.76,341.19 L346.14,341.88 L346.54,342.56 L346.93,343.22 L347.34,343.85 L347.76,344.45 L348.20,345.00 L348.57,345.43 L348.96,345.83 L349.35,346.22 L349.75,346.58 L350.16,346.92 L350.57,347.24 L350.98,347.53 L351.40,347.80 L351.77,348.02 L352.15,348.22 L352.52,348.40 L352.90,348.57 L353.29,348.71 L353.68,348.83 L354.09,348.93 L354.50,349.00 L354.97,349.05 L355.46,349.06 L355.95,349.04 L356.46,349.00 L356.97,348.93 L357.48,348.84 L357.99,348.73 L358.50,348.60 L359.06,348.44 L359.63,348.25 L360.20,348.03 L360.77,347.79 L361.34,347.53 L361.90,347.24 L362.46,346.93 L363.00,346.60 L363.58,346.21 L364.15,345.79 L364.70,345.35 L365.25,344.87 L365.80,344.37 L366.36,343.84 L366.92,343.29 L367.50,342.70 L368.28,341.87 L369.07,340.96 L369.88,339.99 L370.70,338.98 L371.53,337.95 L372.35,336.91 L373.18,335.89 L374.00,334.90 L374.80,333.93 L375.59,332.94 L376.38,331.94 L377.17,330.95 L377.97,329.98 L378.79,329.04 L379.63,328.14 L380.50,327.30 L381.34,326.55 L382.20,325.81 L383.08,325.10 L383.97,324.42 L384.88,323.79 L385.81,323.20 L386.75,322.67 L387.70,322.20 L388.62,321.82 L389.55,321.51 L390.50,321.24 L391.45,321.02 L392.43,320.83 L393.41,320.67 L394.40,320.53 L395.40,320.40 L396.48,320.29 L397.57,320.21 L398.68,320.17 L399.80,320.15 L400.93,320.15 L402.06,320.16 L403.18,320.18 L404.30,320.20 L405.41,320.23 L406.51,320.26 L407.61,320.31 L408.71,320.37 L409.82,320.44 L410.93,320.52 L412.06,320.61 L413.20,320.70 L414.45,320.81 L415.72,320.93 L417.01,321.07 L418.30,321.22 L419.60,321.36 L420.88,321.51 L422.15,321.66 L423.40,321.80 L424.53,321.93 L425.63,322.07 L426.71,322.21 L427.79,322.34 L428.87,322.48 L429.98,322.60 L431.11,322.71 L432.30,322.80 L433.77,322.89 L435.29,322.95 L436.85,323.00 L438.44,323.04 L440.06,323.06 L441.70,323.08 L443.35,323.09 L445.00,323.10 L446.82,323.10 L448.66,323.09 L450.53,323.07 L452.42,323.03 L454.32,323.00 L456.22,322.96 L458.12,322.93 L460.00,322.90 L517.00,322.90" stroke="#00ffff"/>
<path d="M80.50,322.90 L102.33,322.90 L102.33,255.00 L102.32,252.62 L102.31,250.23 L102.29,247.83 L102.28,245.43 L102.27,243.05 L102.27,240.68 L102.28,238.32 L102.30,236.00 L102.34,233.83 L102.38,231.68 L102.44,229.54 L102.50,227.42 L102.57,225.31 L102.65,223.21 L102.72,221.11 L102.80,219.00 L102.87,216.92 L102.95,214.85 L103.03,212.78 L103.11,210.71 L103.20,208.65 L103.29,206.60 L103.39,204.55 L103.50,202.50 L103.61,200.50 L103.74,198.51 L103.86,196.53 L104.00,194.55 L104.14,192.57 L104.28,190.59 L104.44,188.60 L104.60,186.60 L104.78,184.54 L104.98,182.48 L105.19,180.42 L105.41,178.35 L105.62,176.27 L105.83,174.19 L106.03,172.10 L106.20,170.00 L106.36,167.84 L106.50,165.66 L106.63,163.47 L106.75,161.28 L106.87,159.08 L106.98,156.89 L107.09,154.69 L107.20,152.50 L107.31,150.29 L107.40,148.06 L107.49,145.81 L107.57,143.57 L107.66,141.36 L107.76,139.18 L107.87,137.05 L108.00,135.00 L108.13,133.29 L108.27,131.61 L108.42,129.95 L108.58,128.33 L108.74,126.75 L108.90,125.22 L109.06,123.73 L109.20,122.30" stroke="#ff00ff" stroke-dasharray="8.7 8.5" stroke-dashoffset="0.00"/>
<path d="M109.20,122.30 L109.31,121.23 L109.41,120.21 L109.51,119.23 L109.61,118.27 L109.70,117.32 L109.80,116.37 L109.90,115.40 L110.00,114.40 L110.11,113.28 L110.23,112.13 L110.34,110.97 L110.46,109.80 L110.57,108.63 L110.68,107.47 L110.79,106.32 L110.90,105.20 L110.99,104.19 L111.08,103.20 L111.16,102.22 L111.24,101.25 L111.32,100.28 L111.41,99.30 L111.50,98.31 L111.60,97.30 L111.72,96.18 L111.84,95.03 L111.97,93.87 L112.10,92.70 L112.24,91.53 L112.39,90.36 L112.54,89.22 L112.70,88.10 L112.85,87.08 L113.00,86.07 L113.16,85.07 L113.32,84.08 L113.49,83.10 L113.68,82.13 L113.88,81.16 L114.10,80.20 L114.33,79.26 L114.58,78.32 L114.84,77.37 L115.12,76.43 L115.41,75.51 L115.70,74.63 L116.00,73.79 L116.30,73.00 L116.53,72.42 L116.76,71.85 L116.99,71.29 L117.23,70.76 L117.48,70.25 L117.73,69.79 L118.01,69.37 L118.30,69.00 L118.53,68.76 L118.76,68.53 L119.01,68.33 L119.26,68.14 L119.52,67.98 L119.78,67.85 L120.04,67.76 L120.30,67.70 L120.56,67.68 L120.82,67.69 L121.09,67.74 L121.36,67.81 L121.63,67.91 L121.90,68.02 L122.15,68.15 L122.40,68.30 L122.68,68.50 L122.94,68.74 L123.20,69.01 L123.45,69.31 L123.69,69.62 L123.93,69.94 L124.17,70.27 L124.40,70.60 L124.65,70.97 L124.90,71.35 L125.14,71.75 L125.38,72.16 L125.61,72.57 L125.84,72.98 L126.07,73.39 L126.30,73.80 L126.52,74.19 L126.74,74.58 L126.95,74.96 L127.16,75.34 L127.38,75.73 L127.60,76.13 L127.84,76.55 L128.10,77.00 L128.49,77.66 L128.91,78.35 L129.35,79.08 L129.82,79.83 L130.29,80.60 L130.77,81.39 L131.24,82.19 L131.70,83.00 L132.21,83.93 L132.73,84.89 L133.25,85.87 L133.77,86.87 L134.28,87.87 L134.80,88.87 L135.30,89.85 L135.80,90.80 L136.25,91.66 L136.69,92.51 L137.12,93.35 L137.55,94.19 L137.98,95.01 L138.41,95.82 L138.85,96.62 L139.30,97.40 L139.72,98.11 L140.15,98.82 L140.58,99.51 L141.02,100.20 L141.45,100.87 L141.90,101.53 L142.35,102.17 L142.80,102.80 L143.22,103.36 L143.64,103.92 L144.07,104.46 L144.50,104.98 L144.93,105.50 L145.38,106.01 L145.83,106.51 L146.30,107.00 L146.78,107.49 L147.27,107.97 L147.76,108.45 L148.27,108.92 L148.79,109.37 L149.32,109.80 L149.85,110.21 L150.40,110.60 L150.94,110.95 L151.50,111.29 L152.07,111.61 L152.64,111.90 L153.22,112.18 L153.81,112.44 L154.41,112.68 L155.00,112.90 L155.58,113.10 L156.16,113.27 L156.74,113.44 L157.33,113.58 L157.93,113.70 L158.54,113.79 L159.16,113.86 L159.80,113.90 L160.56,113.90 L161.34,113.85 L162.13,113.76 L162.93,113.63 L163.76,113.49 L164.61,113.33 L165.49,113.16 L166.40,113.00 L167.63,112.77 L168.93,112.50 L170.29,112.21 L171.68,111.90 L173.09,111.59 L174.51,111.29 L175.92,111.03 L177.30,110.80 L178.66,110.61 L180.02,110.45 L181.38,110.31 L182.75,110.19 L184.11,110.08 L185.48,109.98 L186.84,109.89 L188.20,109.80 L189.55,109.72 L190.90,109.64 L192.25,109.58 L193.60,109.53 L194.94,109.48 L196.29,109.44 L197.65,109.42 L199.00,109.40 L200.36,109.40 L201.70,109.41 L203.04,109.43 L204.39,109.47 L205.75,109.50 L207.13,109.54 L208.54,109.57 L210.00,109.60 L211.76,109.62 L213.59,109.64 L215.45,109.66 L217.35,109.68 L219.27,109.70 L221.20,109.71 L223.11,109.73 L225.00,109.75 L297.95,109.75" stroke="#ff00ff" stroke-dasharray="8.7 8.5" stroke-dashoffset="1.16"/>
<path d="M297.95,109.75 L298.02,108.92 L298.09,108.11 L298.16,107.32 L298.23,106.51 L298.31,105.69 L298.37,104.84 L298.44,103.95 L298.50,103.00 L298.58,101.58 L298.65,100.06 L298.71,98.46 L298.77,96.79 L298.83,95.10 L298.88,93.38 L298.94,91.68 L299.00,90.00 L299.06,88.27 L299.12,86.52 L299.18,84.77 L299.24,83.00 L299.30,81.23 L299.37,79.48 L299.43,77.73 L299.50,76.00 L299.57,74.34 L299.64,72.66 L299.71,70.98 L299.78,69.32 L299.86,67.68 L299.94,66.07 L300.02,64.51 L300.10,63.00 L300.17,61.78 L300.24,60.59 L300.31,59.42 L300.39,58.28 L300.46,57.17 L300.54,56.08 L300.62,55.03 L300.70,54.00 L300.77,53.20 L300.84,52.43 L300.91,51.70 L300.99,50.98 L301.06,50.26 L301.14,49.53 L301.22,48.78 L301.30,48.00 L301.39,47.04 L301.47,46.02 L301.55,44.98" stroke="#ff00ff" stroke-dasharray="8.7 8.5" stroke-dashoffset="3.67"/>
<path d="M301.55,44.98 L301.64,43.92 L301.73,42.87 L301.83,41.85 L301.96,40.89 L302.10,40.00 L302.22,39.33 L302.34,38.61 L302.47,37.89 L302.61,37.20 L302.76,36.58 L302.93,36.09 L303.11,35.75 L303.30,35.60 L303.47,35.63 L303.66,35.78 L303.86,36.01 L304.07,36.31 L304.27,36.66 L304.47,37.04 L304.65,37.43 L304.80,37.80 L304.98,38.38 L305.13,39.03 L305.24,39.74 L305.33,40.49 L305.40,41.27 L305.46,42.07 L305.52,42.89 L305.60,43.70 L305.69,44.69" stroke="#ff00ff"/>
<path d="M305.69,44.69 L305.78,45.72 L305.85,46.77 L305.92,47.85 L305.99,48.95 L306.06,50.04 L306.13,51.13 L306.20,52.20 L306.28,53.25 L306.35,54.30 L306.43,55.35 L306.51,56.40 L306.59,57.45 L306.66,58.50 L306.73,59.55 L306.80,60.60 L306.86,61.64 L306.91,62.65 L306.95,63.64 L307.00,64.65 L307.04,65.67 L307.09,66.75 L307.14,67.88 L307.20,69.10 L307.30,71.07 L307.42,73.22 L307.55,75.52 L307.68,77.91 L307.82,80.34 L307.96,82.77 L308.08,85.14 L308.20,87.40 L308.30,89.42 L308.39,91.42 L308.48,93.41 L308.56,95.38 L308.65,97.32 L308.73,99.23 L308.81,101.09 L308.90,102.90 L308.97,104.40 L309.05,105.87 L309.12,107.30 L309.20,108.71 L309.27,110.10 L309.35,111.47 L309.42,112.84 L309.50,114.20 L309.57,115.45 L309.65,116.65 L309.73,117.83 L309.81,119.00 L309.88,120.19 L309.96,121.43 L310.03,122.72 L310.10,124.10 L310.19,126.13 L310.26,128.30 L310.34,130.59 L310.41,132.95 L310.48,135.35 L310.55,137.75 L310.62,140.11 L310.70,142.40 L310.78,144.56 L310.86,146.73 L310.94,148.89 L311.03,151.04 L311.11,153.17 L311.21,155.26 L311.30,157.31 L311.40,159.30 L311.49,160.99 L311.59,162.66 L311.69,164.31 L311.79,165.92 L311.90,167.50 L312.00,169.05 L312.10,170.55 L312.20,172.00 L312.28,173.14 L312.35,174.24 L312.42,175.31 L312.50,176.36 L312.57,177.39 L312.64,178.42 L312.72,179.45 L312.80,180.50 L312.89,181.56 L312.98,182.63 L313.07,183.69 L313.17,184.75 L313.26,185.82 L313.35,186.88 L313.43,187.94 L313.50,189.00 L313.55,190.05 L313.60,191.10 L313.63,192.15 L313.66,193.20 L313.69,194.25 L313.72,195.30 L313.76,196.35 L313.80,197.40 L313.85,198.45 L313.91,199.50 L313.98,200.55 L314.04,201.60 L314.11,202.65 L314.18,203.70 L314.24,204.75 L314.30,205.80 L314.35,206.86 L314.41,207.91 L314.45,208.96 L314.50,210.01 L314.55,211.06 L314.60,212.13 L314.65,213.21 L314.70,214.30 L314.76,215.51 L314.82,216.75 L314.87,218.01 L314.93,219.28 L315.00,220.54 L315.06,221.79 L315.13,223.01 L315.20,224.20 L315.27,225.22 L315.34,226.20 L315.41,227.17 L315.49,228.12 L315.57,229.07 L315.64,230.03 L315.72,231.00 L315.80,232.00 L315.88,233.11 L315.97,234.23 L316.06,235.37 L316.15,236.53 L316.23,237.68 L316.32,238.83 L316.41,239.97 L316.50,241.10 L316.59,242.18 L316.67,243.25 L316.76,244.31 L316.85,245.37 L316.94,246.43 L317.02,247.49 L317.11,248.54 L317.20,249.60 L317.29,250.65 L317.37,251.70 L317.46,252.75 L317.55,253.80 L317.64,254.85 L317.73,255.90 L317.81,256.95 L317.90,258.00 L317.99,259.06 L318.08,260.11 L318.16,261.16 L318.25,262.21 L318.34,263.27 L318.43,264.33 L318.51,265.41 L318.60,266.50 L318.69,267.67 L318.78,268.83 L318.86,269.99 L318.94,271.17 L319.03,272.38 L319.12,273.62 L319.21,274.93 L319.30,276.30 L319.43,278.30 L319.56,280.45 L319.69,282.71 L319.83,285.05 L319.98,287.42 L320.14,289.79 L320.31,292.13 L320.50,294.40" stroke="#ff00ff" stroke-dasharray="8.7 8.5" stroke-dashoffset="9.67"/>
<path d="M320.50,294.40 L320.70,296.55 L320.90,298.69 L321.11,300.82 L321.34,302.94 L321.58,305.05 L321.84,307.15 L322.11,309.23 L322.40,311.30 L322.70,313.29 L323.03,315.27 L323.37,317.24 L323.72,319.20 L324.08,321.15 L324.46,323.06 L324.83,324.95 L325.20,326.80 L325.53,328.45 L325.86,330.11 L326.20,331.75 L326.54,333.36 L326.88,334.93 L327.24,336.46 L327.61,337.92 L328.00,339.30 L328.31,340.33 L328.62,341.34 L328.93,342.32 L329.26,343.26 L329.59,344.16 L329.94,345.02 L330.31,345.84 L330.70,346.60 L331.01,347.16 L331.33,347.72 L331.66,348.25 L332.00,348.75 L332.35,349.22 L332.72,349.63 L333.10,350.00 L333.50,350.30 L333.84,350.50 L334.21,350.67 L334.58,350.80 L334.97,350.91 L335.35,350.98 L335.74,351.02 L336.13,351.02 L336.50,351.00 L336.88,350.94 L337.27,350.83 L337.65,350.69 L338.03,350.52 L338.41,350.31 L338.78,350.09 L339.14,349.85 L339.50,349.60 L339.90,349.28 L340.29,348.93 L340.67,348.55 L341.04,348.14 L341.41,347.71 L341.77,347.28 L342.14,346.84 L342.50,346.40 L342.88,345.94 L343.24,345.47 L343.60,345.00 L343.96,344.52 L344.32,344.02 L344.69,343.51 L345.08,342.97 L345.50,342.40 L346.13,341.55 L346.80,340.64 L347.52,339.67 L348.26,338.66 L349.00,337.65 L349.73,336.63 L350.44,335.65 L351.10,334.70 L351.65,333.89 L352.17,333.07 L352.67,332.25 L353.16,331.45 L353.65,330.66 L354.15,329.91 L354.66,329.18 L355.20,328.50 L355.69,327.94 L356.18,327.40 L356.69,326.88 L357.20,326.38 L357.71,325.91 L358.24,325.46 L358.77,325.02 L359.30,324.60 L359.80,324.23 L360.30,323.87 L360.82,323.53 L361.33,323.21 L361.85,322.90 L362.37,322.61 L362.89,322.35 L363.40,322.10 L363.85,321.90 L364.30,321.71 L364.75,321.54 L365.20,321.38 L365.65,321.24 L366.10,321.11 L366.55,321.00 L367.00,320.90 L367.43,320.82 L367.86,320.76 L368.29,320.71 L368.72,320.68 L369.15,320.66 L369.59,320.64 L370.04,320.62 L370.50,320.60 L371.03,320.58 L371.58,320.57 L372.13,320.56 L372.70,320.56 L373.27,320.56 L373.84,320.57 L374.42,320.58 L375.00,320.60 L375.62,320.62 L376.24,320.65 L376.86,320.68 L377.49,320.72 L378.13,320.76 L378.78,320.80 L379.43,320.85 L380.10,320.90 L380.85,320.96 L381.59,321.03 L382.34,321.10 L383.10,321.17 L383.89,321.25 L384.71,321.33 L385.58,321.41 L386.50,321.50 L387.98,321.64 L389.59,321.79 L391.30,321.95 L393.09,322.12 L394.93,322.28 L396.79,322.43 L398.66,322.58 L400.50,322.70 L402.49,322.82 L404.50,322.92 L406.53,323.02 L408.59,323.10 L410.66,323.18 L412.76,323.23 L414.87,323.27 L417.00,323.30 L419.34,323.30" stroke="#ff00ff" stroke-dasharray="8.7 8.5" stroke-dashoffset="2.54"/>
<path d="M419.34,323.30 L421.75,323.27 L424.19,323.21 L426.65,323.14 L429.10,323.07 L431.50,323.00 L433.85,322.94 L436.10,322.90 L437.94,322.88 L439.73,322.88 L441.47,322.88 L443.19,322.88 L444.88,322.89 L446.58,322.89 L448.28,322.90 L450.00,322.90 L517.00,322.90" stroke="#ff00ff" stroke-dasharray="8.7 8.5" stroke-dashoffset="5.03"/>
</g>
<rect x="80.5" y="24.5" width="436.5" height="341" fill="none" stroke="#262626" stroke-width="1"/>
<g class="tk"><text x="80.50" y="390.8" text-anchor="middle">0</text><text x="167.80" y="390.8" text-anchor="middle">20</text><text x="255.10" y="390.8" text-anchor="middle">40</text><text x="342.40" y="390.8" text-anchor="middle">60</text><text x="429.70" y="390.8" text-anchor="middle">80</text><text x="517.00" y="390.8" text-anchor="middle">100</text><text x="72.5" y="372.62" text-anchor="end">-0.2</text><text x="72.5" y="330.00" text-anchor="end">0</text><text x="72.5" y="287.38" text-anchor="end">0.2</text><text x="72.5" y="244.75" text-anchor="end">0.4</text><text x="72.5" y="202.12" text-anchor="end">0.6</text><text x="72.5" y="159.50" text-anchor="end">0.8</text><text x="72.5" y="116.87" text-anchor="end">1</text><text x="72.5" y="74.25" text-anchor="end">1.2</text><text x="72.5" y="31.62" text-anchor="end">1.4</text></g>
<text class="lab" x="298" y="414.8" text-anchor="middle">t/s</text>
<text class="lab" transform="translate(32.5,194.5) rotate(-90)" text-anchor="middle">Control signal</text>
<g class="lg">
<rect x="320.5" y="33.5" width="190" height="79.5" fill="#fff" stroke="#262626" stroke-width="1"/>
<g fill="none" stroke-width="2">
<path d="M325.3,44.7 H379" stroke="#0000ff" stroke-dasharray="8.7 8.5"/>
<path d="M325.3,63.7 H379" stroke="#ff0000" stroke-dasharray="8.6 2.4 4 2.2"/>
<path d="M325.3,82.7 H379" stroke="#00ffff"/>
<path d="M325.3,101.7 H379" stroke="#ff00ff" stroke-dasharray="8.7 8.5"/>
</g>
<text x="383.5" y="51.1">DRO-PID</text>
<text x="383.5" y="70.2">DRO-PI</text>
<text x="383.5" y="89.2">SIMC-PID</text>
<text x="383.5" y="108.2">Panagopoulos-PID</text>
</g>
</svg>
</body></html>
